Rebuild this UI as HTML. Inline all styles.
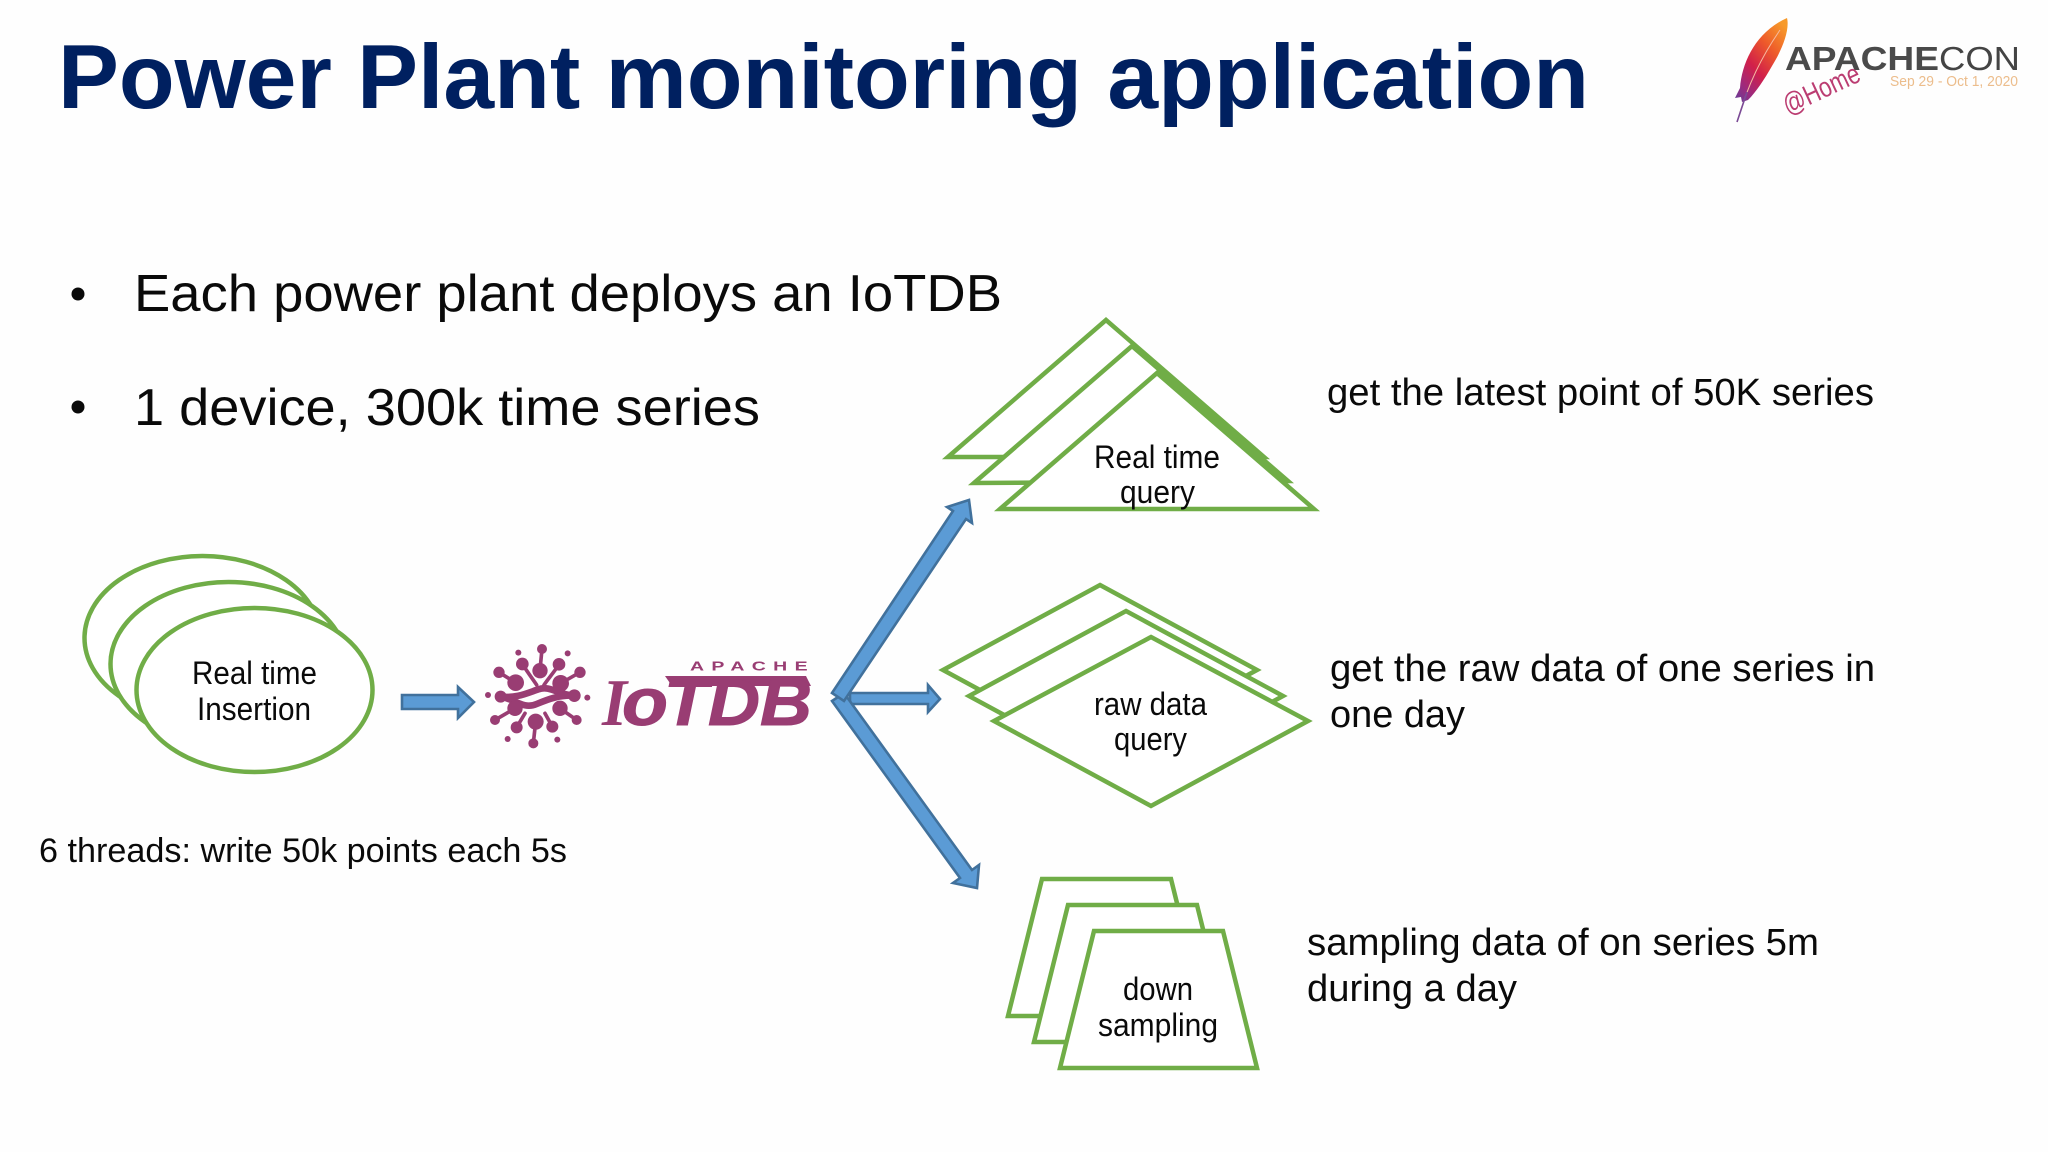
<!DOCTYPE html>
<html lang="en">
<head>
<meta charset="utf-8">
<title>Power Plant monitoring application</title>
<style>
html,body{margin:0;padding:0;background:#fefefe;width:2048px;height:1152px;overflow:hidden}
svg{display:block}
text{font-family:"Liberation Sans",sans-serif;fill:#0a0a0a}
.g{fill:#fff;stroke:#70ad47;stroke-width:4.5;stroke-linejoin:miter}
.a{fill:#5b9bd5;stroke:#41719c;stroke-width:2.6;stroke-linejoin:miter}
.s{font-size:32px}
.m{font-size:38px}
.b{font-size:52px}
.p{fill:#993d73}
.ps{stroke:#993d73;fill:none;stroke-linecap:round}
</style>
</head>
<body>
<svg width="2048" height="1152" viewBox="0 0 2048 1152" xmlns="http://www.w3.org/2000/svg">
<defs>
<linearGradient id="fe" x1="0.8" y1="0" x2="0.1" y2="1">
<stop offset="0" stop-color="#f79a2a"/>
<stop offset="0.3" stop-color="#ee5a2a"/>
<stop offset="0.6" stop-color="#d11f4a"/>
<stop offset="0.85" stop-color="#9c2a7e"/>
<stop offset="1" stop-color="#6f3a94"/>
</linearGradient>
</defs>
<rect width="2048" height="1152" fill="#fefefe"/>

<text x="58" y="108" font-size="91" font-weight="700" style="fill:#002060" textLength="1531" lengthAdjust="spacingAndGlyphs">Power Plant monitoring application</text>

<circle cx="78" cy="294" r="6.5" fill="#0a0a0a"/>
<circle cx="78" cy="407" r="6.5" fill="#0a0a0a"/>
<text class="b" x="134" y="311" textLength="868" lengthAdjust="spacingAndGlyphs">Each power plant deploys an IoTDB</text>
<text class="b" x="134" y="425" textLength="626" lengthAdjust="spacingAndGlyphs">1 device, 300k time series</text>

<!-- ApacheCon logo -->
<path d="M1787 18C1790 30 1782 50 1772 66C1764 80 1756 92 1748 100L1742 102L1741 97L1735 98L1740 88C1742 62 1756 32 1787 18Z" fill="url(#fe)"/>
<path d="M1780 30C1762 56 1748 84 1737 122" stroke="#f6b9a0" stroke-width="1" fill="none"/>
<path d="M1747 92L1737 122" stroke="#7a4a96" stroke-width="1.6" fill="none"/>
<text x="1785" y="70" font-size="33" font-weight="700" style="fill:#4a4a4a" textLength="154" lengthAdjust="spacingAndGlyphs">APACHE</text>
<text x="1939" y="70" font-size="33" style="fill:#444" textLength="81" lengthAdjust="spacingAndGlyphs">CON</text>
<text x="1890" y="86" font-size="14.5" style="fill:#ecbd8c" textLength="128" lengthAdjust="spacingAndGlyphs">Sep 29 - Oct 1, 2020</text>
<text transform="translate(1788 115) rotate(-25)" font-size="28" style="fill:#bb3d72" textLength="82" lengthAdjust="spacingAndGlyphs">@Home</text>

<!-- Ellipses -->
<ellipse class="g" cx="202.5" cy="638" rx="118" ry="82"/>
<ellipse class="g" cx="228.5" cy="664" rx="118" ry="82"/>
<ellipse class="g" cx="254.5" cy="690" rx="118" ry="82"/>
<text class="s" x="192" y="684" textLength="125" lengthAdjust="spacingAndGlyphs">Real time</text>
<text class="s" x="197" y="720" textLength="114" lengthAdjust="spacingAndGlyphs">Insertion</text>
<text x="39" y="862" font-size="34" textLength="528" lengthAdjust="spacingAndGlyphs">6 threads: write 50k points each 5s</text>

<!-- Arrow to logo -->
<polygon class="a" points="402,695 458,695 458,687 474,702 458,718 458,709 402,709"/>

<!-- IoTDB logo -->
<g transform="translate(470 630) scale(0.3333)">
<g class="ps" stroke-width="11">
<path d="M216 57L210 120"/><path d="M190 340L197 275"/>
<path d="M157 102C175 130 190 150 200 165"/><path d="M267 103C250 130 235 145 222 165"/>
<path d="M87 127L137 158"/><path d="M330 127L272 160"/>
<path d="M75 270L135 235"/><path d="M320 270L270 235"/>
<path d="M140 292L165 250"/><path d="M247 290L225 250"/>
</g>
<path class="ps" stroke-width="20" d="M92 200C140 205 170 190 205 178C240 165 265 195 313 197"/>
<path class="ps" stroke-width="20" d="M92 200C130 205 160 240 200 222C240 205 270 195 313 197"/>
<g class="p">
<circle cx="145" cy="68" r="9"/><circle cx="293" cy="70" r="9"/><circle cx="54" cy="195" r="9"/>
<circle cx="352" cy="203" r="9"/><circle cx="113" cy="327" r="9"/><circle cx="262" cy="329" r="9"/>
<circle cx="216" cy="57" r="15"/><circle cx="210" cy="122" r="23"/>
<circle cx="190" cy="340" r="15"/><circle cx="197" cy="275" r="24"/>
<circle cx="157" cy="102" r="19"/><circle cx="267" cy="103" r="19"/>
<circle cx="87" cy="127" r="17"/><circle cx="330" cy="127" r="17"/>
<circle cx="137" cy="158" r="25"/><circle cx="272" cy="160" r="25"/>
<circle cx="92" cy="200" r="18"/><circle cx="313" cy="197" r="19"/>
<circle cx="135" cy="235" r="23"/><circle cx="270" cy="235" r="23"/>
<circle cx="75" cy="270" r="15"/><circle cx="320" cy="270" r="15"/>
<circle cx="140" cy="292" r="18"/><circle cx="247" cy="290" r="18"/>
</g>
</g>
<text transform="translate(690 670.5) scale(1.5 1)" font-size="13" font-weight="700" style="fill:#993d73;letter-spacing:4.9px">APACHE</text>
<polygon points="665,676 806,676 811,686 672,686" fill="#993d73"/>
<text x="602" y="725" font-size="67" font-weight="700" font-style="italic" style="font-family:'Liberation Serif',serif;fill:#993d73" textLength="25" lengthAdjust="spacingAndGlyphs">I</text>
<text x="622" y="725" font-size="67" font-weight="700" font-style="italic" style="fill:#993d73;stroke:#993d73;stroke-width:1" textLength="46" lengthAdjust="spacingAndGlyphs">o</text>
<text x="664" y="725" font-size="67" font-weight="700" font-style="italic" style="fill:#993d73;stroke:#993d73;stroke-width:1" textLength="148" lengthAdjust="spacingAndGlyphs">TDB</text>

<!-- Branch arrows -->
<polygon class="a" points="850,693 928,693 928,685 940,699 928,712 928,704 850,704"/>
<polygon class="a" points="832,701 960,878 953,883 977,888 979,865 972,870 844,693"/>
<polygon class="a" points="832,693 953,511 947,507 969,500 972,523 966,519 844,701"/>

<!-- Triangles -->
<polygon class="g" points="948,457 1106,320 1264,457"/>
<polygon class="g" points="974,483 1132,346 1288,481"/>
<polygon class="g" points="1000,509 1157,373 1314,509"/>
<text class="s" x="1094" y="468" textLength="126" lengthAdjust="spacingAndGlyphs">Real time</text>
<text class="s" x="1120" y="503" textLength="75" lengthAdjust="spacingAndGlyphs">query</text>
<text class="m" x="1327" y="405" textLength="547" lengthAdjust="spacingAndGlyphs">get the latest point of 50K series</text>

<!-- Diamonds -->
<polygon class="g" points="1100,585 1257,670 1100,755 943,670"/>
<polygon class="g" points="1126,611 1283,696 1126,781 969,696"/>
<polygon class="g" points="1151,637 1308,721 1151,806 994,721"/>
<text class="s" x="1094" y="715" textLength="113" lengthAdjust="spacingAndGlyphs">raw data</text>
<text class="s" x="1114" y="750" textLength="73" lengthAdjust="spacingAndGlyphs">query</text>
<text class="m" x="1330" y="681" textLength="545" lengthAdjust="spacingAndGlyphs">get the raw data of one series in</text>
<text class="m" x="1330" y="727" textLength="135" lengthAdjust="spacingAndGlyphs">one day</text>

<!-- Trapezoids -->
<polygon class="g" points="1042,879 1171,879 1205,1016 1008,1016"/>
<polygon class="g" points="1068,905 1197,905 1231,1042 1034,1042"/>
<polygon class="g" points="1094,931 1223,931 1257,1068 1060,1068"/>
<text class="s" x="1123" y="1000" textLength="70" lengthAdjust="spacingAndGlyphs">down</text>
<text class="s" x="1098" y="1036" textLength="120" lengthAdjust="spacingAndGlyphs">sampling</text>
<text class="m" x="1307" y="955" textLength="512" lengthAdjust="spacingAndGlyphs">sampling data of on series 5m</text>
<text class="m" x="1307" y="1001" textLength="210" lengthAdjust="spacingAndGlyphs">during a day</text>
</svg>
</body>
</html>
